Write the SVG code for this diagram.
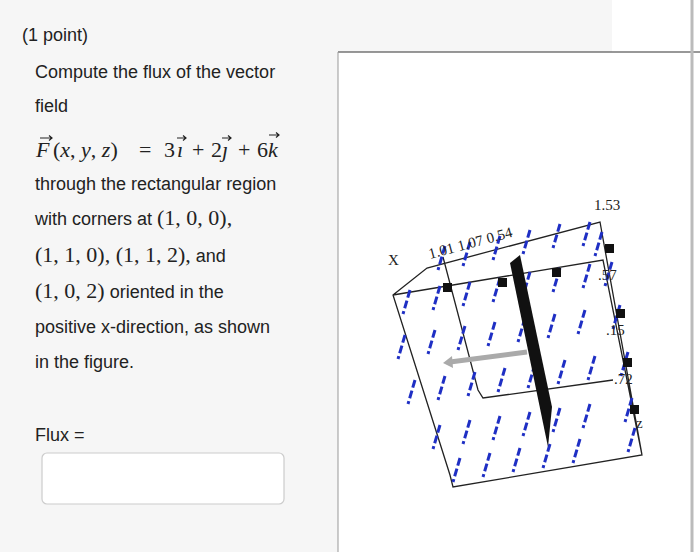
<svg xmlns="http://www.w3.org/2000/svg" width="700" height="552" viewBox="0 0 700 552">
<style>
.t{font-family:"Liberation Sans",Arial,sans-serif;font-size:18px;fill:#222}
.m{font-family:"Liberation Serif","Times New Roman",serif;font-size:22px;fill:#222}
.ax{font-family:"Liberation Serif",serif;font-size:15px;fill:#222}
.e{fill:none;stroke:#222;stroke-width:1.3}
.v{fill:none;stroke:#222;stroke-width:1.2}
</style>
<rect x="0" y="0" width="612" height="552" fill="#f6f6f6"/>
<rect x="338" y="52" width="362" height="500" fill="#fff"/>
<line x1="338" y1="52" x2="700" y2="52" stroke="#333" stroke-width="1.2"/>
<line x1="338" y1="52" x2="338" y2="552" stroke="#999" stroke-width="1"/>
<line x1="692" y1="0" x2="692" y2="552" stroke="#bbb" stroke-width="3"/>
<g id="text">
<text class="t" x="22" y="41">(1 point)</text>
<text class="t" x="35" y="78">Compute the flux of the vector</text>
<text class="t" x="35" y="112">field</text>
<text class="m" y="157"><tspan x="36" font-style="italic">F</tspan><tspan x="53">(</tspan><tspan font-style="italic">x</tspan>, <tspan font-style="italic">y</tspan>, <tspan font-style="italic">z</tspan>)<tspan x="139">=</tspan><tspan x="164">3</tspan><tspan x="177" font-style="italic">ı</tspan><tspan x="192">+</tspan><tspan x="211">2</tspan><tspan x="222" font-style="italic">ȷ</tspan><tspan x="238">+</tspan><tspan x="257">6</tspan><tspan x="268" font-style="italic">k</tspan></text>
<path class="v" d="M40 138 h12 m-3 -2.5 l3 2.5 l-3 2.5 M177 138 h9 m-3 -2.5 l3 2.5 l-3 2.5 M222 138 h9 m-3 -2.5 l3 2.5 l-3 2.5 M269 135 h10 m-3 -2.5 l3 2.5 l-3 2.5"/>
<text class="t" x="35" y="190">through the rectangular region</text>
<text x="35" y="225"><tspan class="t">with corners at </tspan><tspan class="m">(1, 0, 0),</tspan></text>
<text x="35" y="262"><tspan class="m">(1, 1, 0), (1, 1, 2),</tspan><tspan class="t"> and</tspan></text>
<text x="35" y="298"><tspan class="m">(1, 0, 2)</tspan><tspan class="t"> oriented in the</tspan></text>
<text class="t" x="35" y="333">positive x-direction, as shown</text>
<text class="t" x="35" y="368">in the figure.</text>
<text class="t" x="35" y="441">Flux =</text>
</g>
<rect id="answer" x="42" y="453" width="242" height="51" rx="5" fill="#fff" stroke="#ccc" stroke-width="1.2"/>
<g id="figure">
<path class="e" d="M393 295 L427 268 L600 222 L642 455 L453 487 L450 475 L393 295 Z M393 295 L603 260 L642 455 M443 257 L478 390 L483 398 L613 380"/>
<path d="M445 246 l-7 24 M470 242 l-7 24 M500 236 l-7 24 M530 230 l-7 24 M560 224 l-7 24 M590 222 l-7 24 M602 232 l-7 24
M410 290 l-7 24 M440 286 l-7 24 M470 282 l-7 24 M500 278 l-7 24 M530 272 l-7 24 M560 268 l-7 24 M590 264 l-7 24 M612 262 l-7 24
M405 335 l-7 24 M435 330 l-7 24 M465 326 l-7 24 M495 322 l-7 24 M525 318 l-7 24 M555 314 l-7 24 M585 310 l-7 24 M620 305 l-7 24
M415 380 l-7 24 M445 376 l-7 24 M475 372 l-7 24 M505 368 l-7 24 M535 364 l-7 24 M565 360 l-7 24 M595 356 l-7 24 M628 352 l-7 24
M440 425 l-7 24 M470 420 l-7 24 M500 416 l-7 24 M530 412 l-7 24 M560 408 l-7 24 M590 404 l-7 24 M632 398 l-7 24
M460 458 l-7 24 M490 453 l-7 24 M520 448 l-7 24 M550 444 l-7 24 M580 439 l-7 24 M635 428 l-7 24" fill="none" stroke="#1f2fc4" stroke-width="3" stroke-dasharray="8 3"/>
<polygon points="510,263 520,255 552,407 548,447" fill="#111"/>
<line x1="527" y1="352" x2="450" y2="362" stroke="#aaa" stroke-width="5"/>
<polygon points="443,363 452,356 453,368" fill="#aaa"/>
<g fill="#111"><rect x="443" y="283" width="9" height="9"/><rect x="498" y="278" width="9" height="9"/><rect x="552" y="268" width="9" height="9"/><rect x="605" y="244" width="9" height="9"/><rect x="616" y="309" width="9" height="9"/><rect x="623" y="358" width="9" height="9"/><rect x="630" y="405" width="9" height="9"/></g>
<text class="ax" x="388" y="265">X</text>
<text class="ax" x="430" y="259" transform="rotate(-15 430 259)">1.01 1.07 0.54</text>
<text class="ax" x="598" y="280">.57</text>
<text class="ax" x="606" y="335">.15</text>
<text class="ax" x="614" y="384">.72</text>
<text class="ax" x="636" y="428">z</text>
<text class="ax" x="594" y="210" font-size="12">1.53</text>
</g>
</svg>
